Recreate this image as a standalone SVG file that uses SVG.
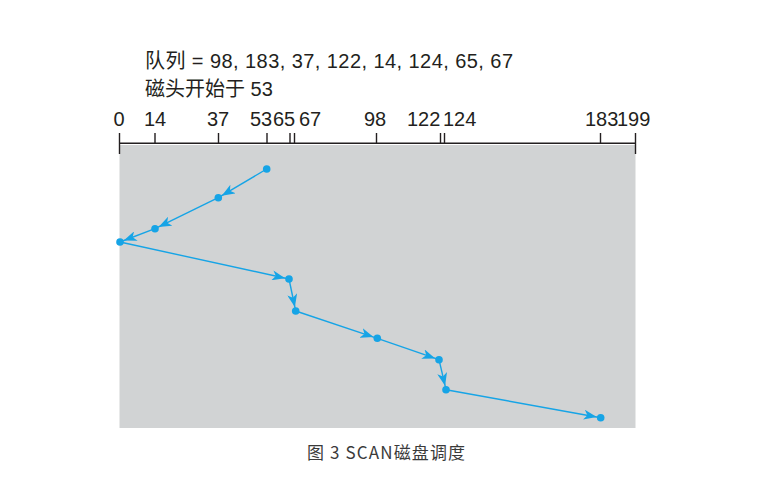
<svg xmlns="http://www.w3.org/2000/svg" width="758" height="478" viewBox="0 0 758 478">
<style>
.t{font-family:"Liberation Sans","Noto Sans CJK SC",sans-serif;font-size:20px;fill:#231f20}
.cap{font-family:"Noto Sans CJK SC",sans-serif;font-size:17px;fill:#3a3a3a}
.ax{stroke:#231f20;stroke-width:1.4;fill:none}
.c{stroke:#16a4e6;stroke-width:1.4;fill:none;marker-end:url(#ah)}
.d{fill:#16a4e6}
</style>
<defs>
<marker id="ah" markerUnits="userSpaceOnUse" viewBox="0 0 17 10" refX="17" refY="5" markerWidth="17" markerHeight="10" orient="auto">
<path d="M0,0 L13,5 L0,10 L3.5,5 z" fill="#16a4e6"/>
</marker>
</defs>
<rect x="0" y="0" width="758" height="478" fill="#ffffff"/>
<g id="header">
<text class="t" x="145" y="68" textLength="368" lengthAdjust="spacing">队列 = 98, 183, 37, 122, 14, 124, 65, 67</text>
<text class="t" x="145" y="96">磁头开始于 53</text>
</g>
<g id="chart">
<rect x="119.5" y="145" width="516" height="283" fill="#d1d3d4"/>
<path class="ax" d="M119.5,143.3 H635.5 M119.5,133 V154 M635.5,133 V154 M155,133 V143 M218.5,133 V143 M267,133 V143 M290,133 V143 M294.5,133 V143 M376.5,133 V143 M440.5,133 V143 M444.5,133 V143 M600.5,133 V143"/>
<g id="ticklabels">
<text class="t" x="119" y="126" text-anchor="middle">0</text>
<text class="t" x="144" y="126">14</text>
<text class="t" x="207" y="126">37</text>
<text class="t" x="250" y="126">53</text>
<text class="t" x="273" y="126">65</text>
<text class="t" x="299" y="126">67</text>
<text class="t" x="364" y="126">98</text>
<text class="t" x="407" y="126">122</text>
<text class="t" x="443" y="126">124</text>
<text class="t" x="585" y="126">183</text>
<text class="t" x="617" y="126">199</text>
</g>
</g>
<g id="connectors">
<line class="c" x1="266.7" y1="169" x2="218.3" y2="197.7"/>
<line class="c" x1="218.3" y1="197.7" x2="155" y2="228.7"/>
<line class="c" x1="155" y1="228.7" x2="120" y2="242"/>
<line class="c" x1="120" y1="242" x2="289" y2="279"/>
<line class="c" x1="289" y1="279" x2="295.7" y2="311"/>
<line class="c" x1="295.7" y1="311" x2="377.3" y2="338.3"/>
<line class="c" x1="377.3" y1="338.3" x2="439" y2="359.7"/>
<line class="c" x1="439" y1="359.7" x2="446" y2="389.7"/>
<line class="c" x1="446" y1="389.7" x2="600.7" y2="417.7"/>
</g>
<g id="n53"><circle class="d" cx="266.7" cy="169" r="3.8"/></g>
<g id="n37"><circle class="d" cx="218.3" cy="197.7" r="3.8"/></g>
<g id="n14"><circle class="d" cx="155" cy="228.7" r="3.8"/></g>
<g id="n0"><circle class="d" cx="120" cy="242" r="3.8"/></g>
<g id="n65"><circle class="d" cx="289" cy="279" r="3.8"/></g>
<g id="n67"><circle class="d" cx="295.7" cy="311" r="3.8"/></g>
<g id="n98"><circle class="d" cx="377.3" cy="338.3" r="3.8"/></g>
<g id="n122"><circle class="d" cx="439" cy="359.7" r="3.8"/></g>
<g id="n124"><circle class="d" cx="446" cy="389.7" r="3.8"/></g>
<g id="n183"><circle class="d" cx="600.7" cy="417.7" r="3.8"/></g>
<g id="caption">
<text class="cap" x="307" y="459" textLength="158" lengthAdjust="spacing">图 3 SCAN磁盘调度</text>
</g>
</svg>
